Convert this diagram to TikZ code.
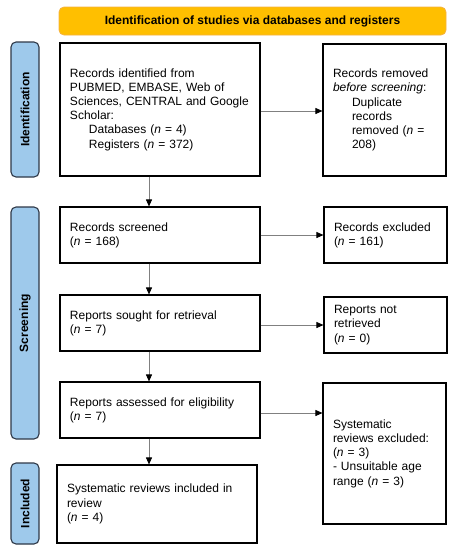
\documentclass[tikz,border=0pt]{standalone}
\usepackage{fontspec}
\setmainfont{Liberation Sans}
\usepackage{xcolor}
\definecolor{header}{rgb}{1,0.75,0}
\definecolor{headerline}{rgb}{0.96,0.70,0.25}
\definecolor{phase}{rgb}{0.62,0.79,0.92}
\definecolor{phaseline}{rgb}{0.18,0.22,0.28}
\definecolor{link}{rgb}{0.5,0.5,0.5}
\usetikzlibrary{arrows.meta}
\usetikzlibrary{positioning}
\usetikzlibrary{calc}

\begin{document}
\begin{tikzpicture}[x=1pt, y=-1pt,
    every node/.style={font=\fontsize{12}{14.2}\selectfont},
    stagebox/.style={draw=black, line width=1.1pt, fill=white, align=left, inner xsep=10pt, inner ysep=4pt},
    leftbox/.style={stagebox, minimum width=200pt, text width=180pt},
    rightbox/.style={stagebox, minimum width=123pt, text width=103pt},
    phasebar/.style={draw=phaseline, line width=1.1pt, fill=phase, rounded corners=5pt, rotate=90, minimum height=28pt, inner sep=0pt, font=\bfseries\fontsize{12}{14}\selectfont},
    flow/.style={draw=link, line width=0.8pt, -{Triangle[length=7pt, width=6pt, color=black]}}]

    \useasboundingbox (0,0) rectangle (453,550);

    % header
    \node[draw=headerline, fill=header, line width=0.8pt, rounded corners=5pt, minimum width=387pt, minimum height=28pt, inner sep=0pt, font=\bfseries\fontsize{12}{14}\selectfont] (title) at (252.5,21) {Identification of studies via databases and registers};

    % phases on the left
    \node[phasebar, minimum width=135pt] (phaseid) at (25,109.5) {Identification};
    \node[phasebar, minimum width=232pt] (phasescr) at (25,323) {Screening};
    \node[phasebar, minimum width=81pt] (phaseinc) at (25,503.5) {Included};

    % main column
    \node[leftbox, minimum height=133pt] (identified) at (160,109.5) {Records identified from\\ PUBMED, EMBASE, Web of\\ Sciences, CENTRAL and Google\\ Scholar:\\ \hspace*{19pt}Databases (\textit{n} = 4)\\ \hspace*{19pt}Registers (\textit{n} = 372)};
    \node[leftbox, minimum height=56pt] (screened) at (160,235) {Records screened\\ (\textit{n} = 168)};
    \node[leftbox, minimum height=56pt] (sought) at (160,323) {Reports sought for retrieval\\ (\textit{n} = 7)};
    \node[leftbox, minimum height=56pt] (assessed) at (160,410) {Reports assessed for eligibility\\ (\textit{n} = 7)};
    \node[leftbox, minimum height=78pt] (included) at (157,504) {Systematic reviews included in\\ review\\ (\textit{n} = 4)};

    % side column
    \node[rightbox, minimum height=132pt] (removed) at (384.5,110) {Records removed\\ \textit{before screening}:\\ \hspace*{19pt}Duplicate\\ \hspace*{19pt}records\\ \hspace*{19pt}removed (\textit{n} =\\ \hspace*{19pt}208)};
    \node[rightbox, minimum height=56pt] (excluded) at (385.5,235) {Records excluded\\ (\textit{n} = 161)};
    \node[rightbox, minimum height=56pt] (notretrieved) at (385.5,325) {Reports not\\ retrieved\\ (\textit{n} = 0)};
    \node[rightbox, minimum height=141pt] (reviewsout) at (384.5,453.5) {Systematic\\ reviews excluded:\\ (\textit{n} = 3)\\ - Unsuitable age\\ range (\textit{n} = 3)};

    % arrows down
    \draw[flow] ([xshift=-11pt]identified.south) -- ([xshift=-11pt]identified.south |- screened.north);
    \draw[flow] ([xshift=-11pt]screened.south) -- ([xshift=-11pt]screened.south |- sought.north);
    \draw[flow] ([xshift=-11pt]sought.south) -- ([xshift=-11pt]sought.south |- assessed.north);
    \draw[flow] ([xshift=-11pt]assessed.south) -- ([xshift=-11pt]assessed.south |- included.north);

    % arrows across
    \draw[flow] ([yshift=-1.5pt]identified.east) -- ([yshift=-1.5pt]identified.east -| removed.west);
    \draw[flow] (screened.east) -- (screened.east -| excluded.west);
    \draw[flow] ([yshift=-2pt]sought.east) -- ([yshift=-2pt]sought.east -| notretrieved.west);
    \draw[flow] ([yshift=-3pt]assessed.east) -- ([yshift=-3pt]assessed.east -| reviewsout.west);

\end{tikzpicture}
\end{document}
